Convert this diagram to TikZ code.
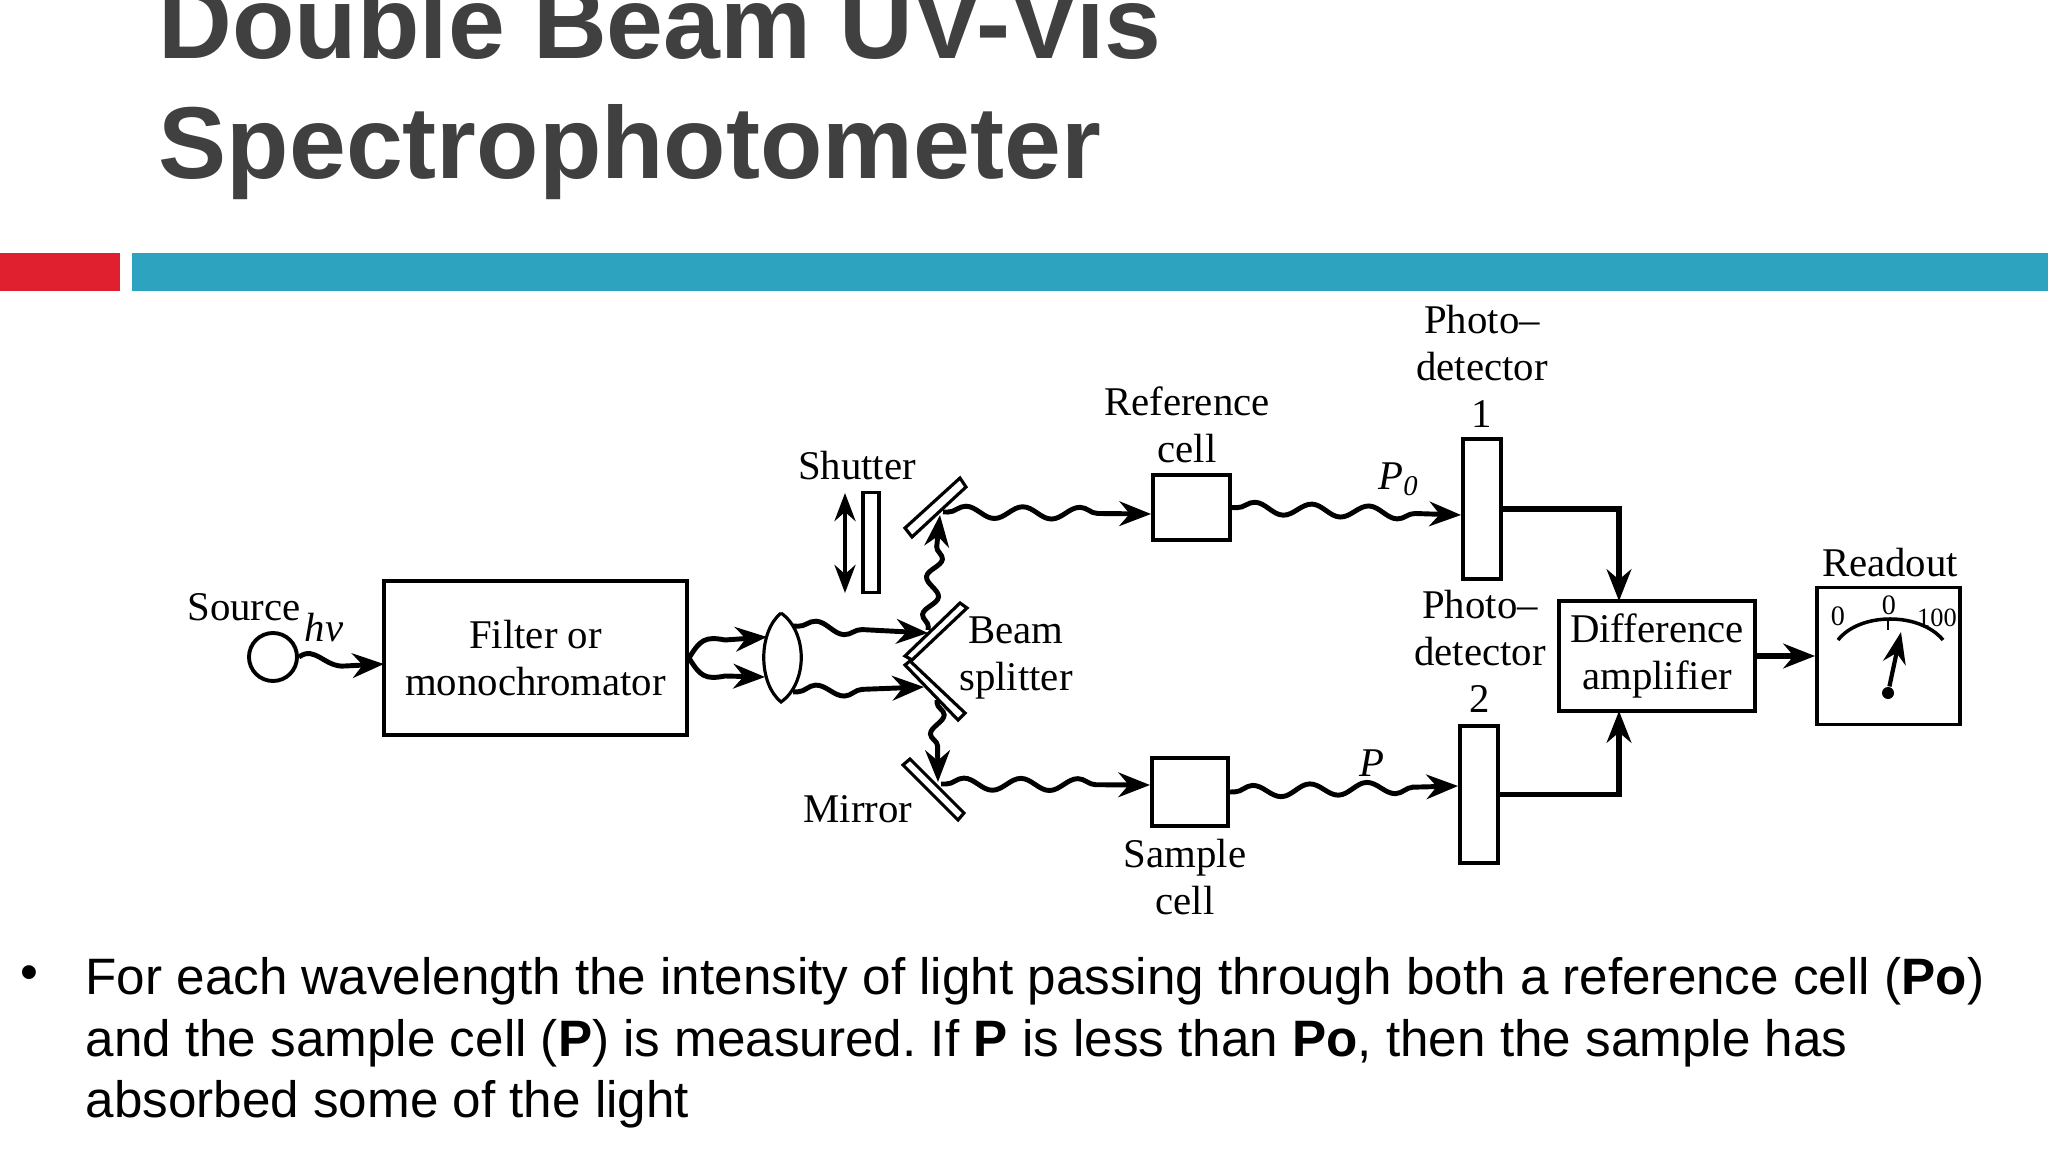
\documentclass[tikz,border=0pt]{standalone}
\usepackage{amsmath}
\usepackage{fontspec}
\setmainfont{Liberation Sans}
\newfontfamily\bookfont{Liberation Serif}
\usetikzlibrary{arrows.meta,decorations.pathmorphing}
\definecolor{slategrey}{HTML}{404040}
\definecolor{barred}{HTML}{E0202E}
\definecolor{barteal}{HTML}{2EA3BF}

\begin{document}
\begin{tikzpicture}[x=.01cm,y=-.01cm,
blockbox/.style={draw,line width=1.1pt,inner sep=0pt,align=center,font=\bookfont\fontsize{11.6}{13.2}\selectfont,fill=white},
tag/.style={inner sep=0pt,align=center,font=\bookfont\fontsize{11.6}{13.4}\selectfont},
ray/.style={line width=1.4pt,-{Stealth[length=9pt,width=7pt]},decorate,decoration={snake,amplitude=.06cm,segment length=.57cm,post length=.42cm,pre length=.05cm}},
shortray/.style={ray,decoration={snake,amplitude=.07cm,segment length=.38cm,post length=.3cm,pre length=.03cm}},
wire/.style={line width=1.7pt,-{Stealth[length=9pt,width=7pt]}},
feedline/.style={line width=1.4pt,-{Stealth[length=9pt,width=7pt]}},
plate/.style={draw,line width=.9pt,fill=white}]

\useasboundingbox (0,0) rectangle (2048,1152);

% title and bars
\node[inner sep=0pt,anchor=base west,text=slategrey,font=\bfseries\fontsize{29.05}{34}\selectfont] (titleone) at (158,59) {Double Beam UV-Vis};
\node[inner sep=0pt,anchor=base west,text=slategrey,font=\bfseries\fontsize{29.05}{34}\selectfont] (titletwo) at (158,179) {Spectrophotometer};
\fill[barred] (0,253) rectangle (120,291);
\fill[barteal] (132,253) rectangle (2048,291);

% boxes
\node[blockbox,minimum width=3.03cm,minimum height=1.54cm] (filter) at (535.5,658) {Filter or\\monochromator};
\node[blockbox,minimum width=.77cm,minimum height=.65cm] (refcell) at (1191.5,507.5) {};
\node[blockbox,minimum width=.76cm,minimum height=.68cm] (samcell) at (1190,792) {};
\node[blockbox,minimum width=.38cm,minimum height=1.40cm] (pdone) at (1482,509) {};
\node[blockbox,minimum width=.38cm,minimum height=1.37cm] (pdtwo) at (1479,794.5) {};
\node[blockbox,minimum width=1.96cm,minimum height=1.10cm] (diff) at (1657,656) {Difference\\amplifier};
\node[blockbox,minimum width=1.43cm,minimum height=1.37cm] (readout) at (1888.5,656) {};
\node[draw,line width=1.1pt,circle,inner sep=0pt,minimum size=.48cm] (source) at (273,657) {};
\node[draw,line width=.9pt,inner sep=0pt,minimum width=.16cm,minimum height=1.00cm] (shutter) at (871,542.5) {};

% mirrors
\draw[plate] (905,528)--(912,537)--(966,487)--(960,478)--cycle;
\draw[plate] (905,656)--(912,660)--(967,608)--(960,603)--cycle;
\draw[plate] (905,665)--(910,661)--(965,713)--(958,720)--cycle;
\draw[plate] (903,765)--(910,759)--(964,813)--(958,820)--cycle;

% lens
\coordinate (lenstop) at (781,613);
\coordinate (lensbot) at (781,702);
\draw[line width=.9pt,fill=white] (lenstop) .. controls (758,632) and (758,683) .. (lensbot) .. controls (808,683) and (808,632) .. (lenstop);

% beam points
\coordinate (lensinup) at (767,637);
\coordinate (lensindn) at (765,677);
\coordinate (lensoutup) at (793,626);
\coordinate (lensoutdn) at (793,692);
\coordinate (splitup) at (928,633);
\coordinate (splitdn) at (924,687);
\coordinate (splitout) at (928,630);
\coordinate (splitoutb) at (937,700);
\coordinate (mirrorup) at (940,515);
\coordinate (mirrordn) at (938,782);
\coordinate (mirrorupout) at (943,512);
\coordinate (mirrordnout) at (941,784);
\coordinate (filterin) at (384,664);
\coordinate (difftop) at (1619,601);
\coordinate (diffbot) at (1619,711);
\coordinate (pdonein) at (pdone.west |- 0,515);
\coordinate (pdtwoin) at (pdtwo.west |- 0,786);
\coordinate (refin) at (refcell.west |- 0,514);
\coordinate (samin) at (samcell.west |- 0,785);

% beams
\draw[feedline] (source.east) .. controls (315,645) and (325,668) .. (345,666) -- (filterin);
\draw[feedline] (filter.east) .. controls (700,640) and (705,636) .. (725,640) -- (lensinup);
\draw[feedline] (filter.east) .. controls (700,676) and (705,680) .. (725,676) -- (lensindn);
\draw[ray] (lensoutup) -- (splitup);
\draw[ray] (lensoutdn) -- (splitdn);
\draw[shortray] (splitout) -- (mirrorup);
\draw[shortray] (splitoutb) -- (mirrordn);
\draw[ray] (mirrorupout) -- (refin);
\draw[ray] (mirrordnout) -- (samin);
\draw[ray] (refcell.east) -- (pdonein);
\draw[ray] (samcell.east) -- (pdtwoin);

% signal wires
\draw[wire] (pdone.east) -| (difftop);
\draw[wire] (pdtwo.east) -| (diffbot);
\draw[wire] (diff.east) -- (readout.west);
\draw[line width=1.1pt,{Stealth[length=8pt,width=6pt]}-{Stealth[length=8pt,width=6pt]}] (845,493) -- (845,593);

% dial
\coordinate (dialleft) at (1838,640);
\coordinate (dialright) at (1943,640);
\node[circle,fill,inner sep=0pt,minimum size=.12cm] (pivot) at (1888,693) {};
\coordinate (needle) at (1901,632);
\draw[line width=1pt] (dialleft) .. controls (1860,612) and (1920,612) .. (dialright);
\draw[line width=1.2pt,-{Stealth[length=9pt,width=6.5pt]}] (pivot) -- (needle);
\draw[line width=.7pt] (1888,618) -- (1888,630);

% labels
\foreach \n/\x/\y/\t in {lbsource/244/607/Source,lbshutter/857/466/Shutter,lbmirror/858/809/Mirror,
lbbeam/1016/658/{Beam\\splitter},lbref/1187/425/{Reference\\cell},lbsam/1185/877/{Sample\\cell},
lbpdone/1482/366/{Photo–\\detector\\1},lbpdtwo/1480/651/{Photo–\\detector\\2},lbread/1890/563/Readout}
{
\node[tag] (\n) at (\x,\y) {\t};
}
\node[tag,font=\bookfont\itshape\fontsize{11.6}{13.4}\selectfont] (lbhv) at (324,628) {hν};
\node[tag,font=\bookfont\itshape\fontsize{11.6}{13.4}\selectfont] (lbpo) at (1399,479) {P\textsubscript{0}};
\node[tag,font=\bookfont\itshape\fontsize{11.6}{13.4}\selectfont] (lbp) at (1372,763) {P};
\node[tag,font=\bookfont\fontsize{8}{9}\selectfont] (lbzeroa) at (1838,616) {0};
\node[tag,font=\bookfont\fontsize{8}{9}\selectfont] (lbzerob) at (1889,605) {0};
\node[tag,font=\bookfont\fontsize{7.5}{9}\selectfont] (lbhund) at (1937,618) {100};

% text below
\node[inner sep=0pt,font=\fontsize{14.5}{17}\selectfont] (bullet) at (29,978) {•};
\node[inner sep=0pt,anchor=north west,align=left,font=\fontsize{14.56}{17.4}\selectfont\frenchspacing] (bodytext) at (85,957)
{For each wavelength the intensity of light passing through both a reference cell (\textbf{Po})\\
and the sample cell (\textbf{P}) is measured. If \textbf{P} is less than \textbf{Po}, then the sample has\\
absorbed some of the light};
\end{tikzpicture}
\end{document}
